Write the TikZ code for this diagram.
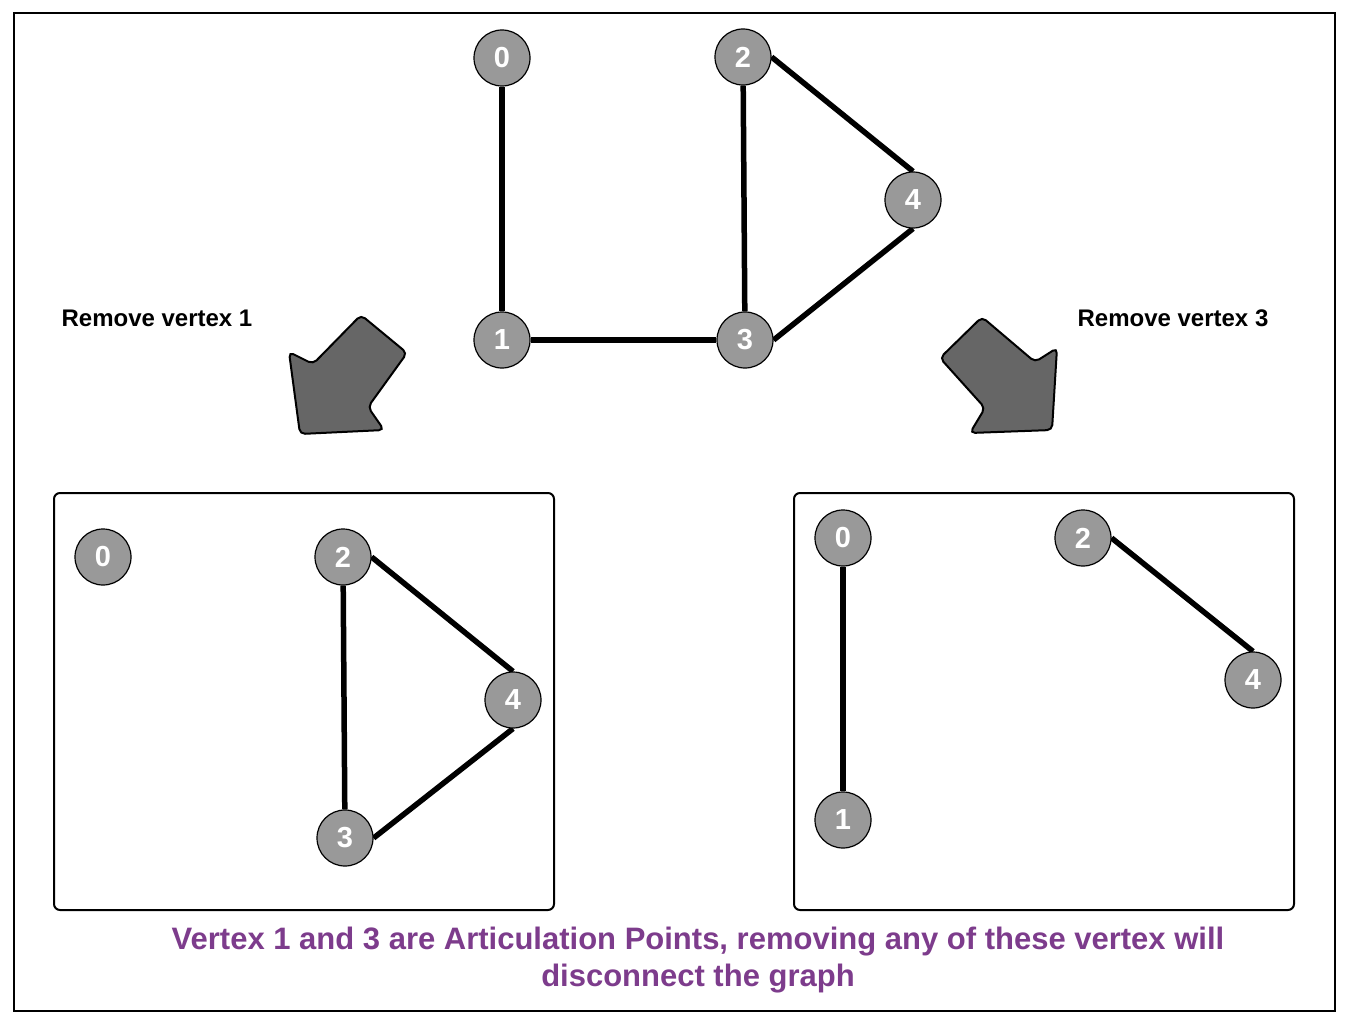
\documentclass[tikz,border=0pt]{standalone}
\usepackage{fontspec}
\setmainfont{Liberation Sans}
\usetikzlibrary{backgrounds}
\definecolor{vgray}{HTML}{999999}
\definecolor{agray}{HTML}{666666}
\definecolor{purp}{HTML}{7D3C8C}
\begin{document}
\begin{tikzpicture}[x=1pt,y=-1pt,
  vtx/.style={circle,draw=black,line width=1.2pt,fill=vgray,minimum size=56pt,inner sep=0pt,text=white,font=\fontsize{29}{29}\selectfont\bfseries},
  edge/.style={line width=5.5pt,black},
  panel/.style={draw=black,line width=2pt,rounded corners=6pt},
  bigarrow/.style={draw=black,line width=2pt,fill=agray,rounded corners=5pt},
  lbl/.style={font=\fontsize{24}{24}\selectfont\bfseries}]
\useasboundingbox (0,0) rectangle (1347,1022);
\draw[line width=2pt] (14,13) rectangle (1335,1011);
% top graph
\node[vtx] (t0) at (502,58) {0};
\node[vtx] (t1) at (502,340) {1};
\node[vtx] (t2) at (743,57) {2};
\node[vtx] (t3) at (745,340) {3};
\node[vtx] (t4) at (913,200) {4};
% labels
\node[lbl] (l1) at (157,318) {Remove vertex 1};
\node[lbl] (l3) at (1173,318) {Remove vertex 3};
% arrows
\draw[bigarrow] (361,315) -- (407,353) -- (368,407) -- (384,430) -- (300,434) -- (289,352) -- (313,364) -- cycle;
\draw[bigarrow] (982,317) -- (1035,362) -- (1057,348) -- (1052,430) -- (970,433) -- (985,408) -- (940,358) -- cycle;
% left panel
\draw[panel] (54,493) rectangle (554,910);
\node[vtx] (a0) at (103,557) {0};
\node[vtx] (a2) at (343,557) {2};
\node[vtx] (a4) at (513,700) {4};
\node[vtx] (a3) at (345,838) {3};
% right panel
\draw[panel] (794,493) rectangle (1294,910);
\node[vtx] (b0) at (843,538) {0};
\node[vtx] (b1) at (843,820) {1};
\node[vtx] (b2) at (1083,538) {2};
\node[vtx] (b4) at (1253,680) {4};
\begin{scope}[on background layer]
\draw[edge] (t0) -- (t1);
\draw[edge] (t1) -- (t3);
\draw[edge] (t2) -- (t3);
\draw[edge] (t2.east) -- (t4.north);
\draw[edge] (t3.east) -- (t4.south);
\draw[edge] (a2) -- (a3);
\draw[edge] (a2.east) -- (a4.north);
\draw[edge] (a3.east) -- (a4.south);
\draw[edge] (b0) -- (b1);
\draw[edge] (b2.east) -- (b4.north);
\end{scope}
% caption
\node[text=purp,font=\fontsize{31}{37}\selectfont\bfseries,align=center] (cap) at (698,960) {Vertex 1 and 3 are Articulation Points, removing any of these vertex will\\disconnect the graph};
\end{tikzpicture}
\end{document}
